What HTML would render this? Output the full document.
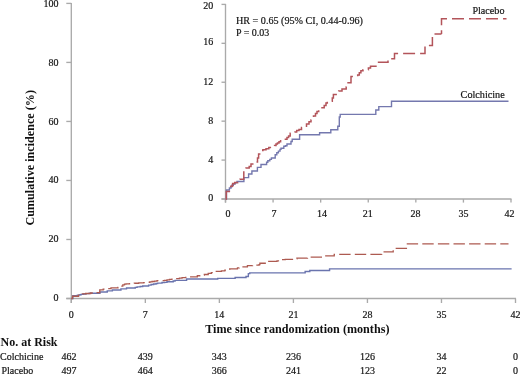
<!DOCTYPE html>
<html><head><meta charset="utf-8"><title>Cumulative incidence</title>
<style>
html,body{margin:0;padding:0;background:#fff;}
body{width:520px;height:374px;overflow:hidden;}
svg{display:block;}
</style></head><body>
<svg width="520" height="374" viewBox="0 0 520 374">
<g stroke="#aaaaaa" stroke-width="1.35" fill="none">
<line x1="71.3" y1="2.9" x2="71.3" y2="303.0"/>
<line x1="66.3" y1="298.5" x2="516.0" y2="298.5"/>
<line x1="66.3" y1="298.50" x2="71.3" y2="298.50"/>
<line x1="66.3" y1="239.48" x2="71.3" y2="239.48"/>
<line x1="66.3" y1="180.46" x2="71.3" y2="180.46"/>
<line x1="66.3" y1="121.44" x2="71.3" y2="121.44"/>
<line x1="66.3" y1="62.42" x2="71.3" y2="62.42"/>
<line x1="66.3" y1="3.40" x2="71.3" y2="3.40"/>
<line x1="71.30" y1="298.5" x2="71.30" y2="303.0"/>
<line x1="145.33" y1="298.5" x2="145.33" y2="303.0"/>
<line x1="219.37" y1="298.5" x2="219.37" y2="303.0"/>
<line x1="293.40" y1="298.5" x2="293.40" y2="303.0"/>
<line x1="367.43" y1="298.5" x2="367.43" y2="303.0"/>
<line x1="441.47" y1="298.5" x2="441.47" y2="303.0"/>
<line x1="515.50" y1="298.5" x2="515.50" y2="303.0"/>
<line x1="225.5" y1="3.9000000000000004" x2="225.5" y2="202.6"/>
<line x1="221.5" y1="199.0" x2="511.5" y2="199.0"/>
<line x1="221.5" y1="199.00" x2="225.5" y2="199.00"/>
<line x1="221.5" y1="160.08" x2="225.5" y2="160.08"/>
<line x1="221.5" y1="121.16" x2="225.5" y2="121.16"/>
<line x1="221.5" y1="82.24" x2="225.5" y2="82.24"/>
<line x1="221.5" y1="43.32" x2="225.5" y2="43.32"/>
<line x1="221.5" y1="4.40" x2="225.5" y2="4.40"/>
<line x1="225.50" y1="199.0" x2="225.50" y2="202.6"/>
<line x1="273.08" y1="199.0" x2="273.08" y2="202.6"/>
<line x1="320.67" y1="199.0" x2="320.67" y2="202.6"/>
<line x1="368.25" y1="199.0" x2="368.25" y2="202.6"/>
<line x1="415.83" y1="199.0" x2="415.83" y2="202.6"/>
<line x1="463.42" y1="199.0" x2="463.42" y2="202.6"/>
<line x1="511.00" y1="199.0" x2="511.00" y2="202.6"/>
</g>
<path d="M71.30,298.50 L72.86,298.50 L72.86,295.77 L77.37,295.77 L77.37,295.16 L79.86,295.16 L79.86,294.80 L81.10,294.80 L81.10,294.34 L83.44,294.34 L83.44,293.95 L86.08,293.95 L86.08,293.59 L89.19,293.59 L89.19,293.19 L99.93,293.19 L99.93,292.01 L107.24,292.01 L107.24,290.92 L112.37,290.92 L112.37,290.01 L120.93,290.01 L120.93,288.92 L126.53,288.92 L126.53,288.04 L135.25,288.04 L135.25,287.34 L137.11,287.34 L137.11,286.91 L140.22,286.91 L140.22,286.49 L142.71,286.49 L142.71,286.07 L148.63,286.07 L148.63,285.09 L151.12,285.09 L151.12,284.46 L153.61,284.46 L153.61,283.97 L156.09,283.97 L156.09,283.46 L157.65,283.46 L157.65,283.09 L162.01,283.09 L162.01,282.52 L164.65,282.52 L164.65,282.33 L166.99,282.33 L166.99,281.82 L173.21,281.82 L173.21,281.06 L175.08,281.06 L175.08,280.39 L186.59,280.39 L186.59,279.03 L217.71,279.03 L217.71,278.39 L235.13,278.39 L235.13,277.48 L246.02,277.48 L246.02,276.45 L248.36,276.45 L248.36,273.63 L249.76,273.63 L249.76,272.84 L305.15,272.84 L305.15,271.51 L309.81,271.51 L309.81,270.48 L329.57,270.48 L329.57,268.87 L511.61,268.87" fill="none" stroke="#6a74ae" stroke-width="1.4"/>
<path d="M71.30,298.50 L72.54,298.50 L72.54,296.26 L78.61,296.26 L78.61,295.13 L79.39,295.13 L79.39,294.65 L82.35,294.65 L82.35,293.83 L85.61,293.83 L85.61,293.50 L90.59,293.50 L90.59,293.01 L93.86,293.01 L93.86,292.53 L99.77,292.53 L99.77,289.92 L103.20,289.92 L103.20,289.10 L108.17,289.10 L108.17,288.61 L110.97,288.61 L110.97,287.88 L117.98,287.88 L117.98,287.28 L121.09,287.28 L121.09,286.07 L122.80,286.07 L122.80,284.85 L124.51,284.85 L124.51,284.09 L126.07,284.09 L126.07,283.79 L129.49,283.79 L129.49,283.58 L134.31,283.58 L134.31,283.24 L138.67,283.24 L138.67,282.91 L143.65,282.91 L143.65,282.58 L147.69,282.58 L147.69,282.27 L149.87,282.27 L149.87,281.82 L152.05,281.82 L152.05,281.52 L154.54,281.52 L154.54,281.12 L157.03,281.12 L157.03,280.61 L164.50,280.61 L164.50,280.36 L166.99,280.36 L166.99,279.88 L169.48,279.88 L169.48,279.39 L171.96,279.39 L171.96,278.54 L179.43,278.54 L179.43,278.18 L182.08,278.18 L182.08,277.69 L185.66,277.69 L185.66,277.45 L189.55,277.45 L189.55,276.85 L197.33,276.85 L197.33,275.75 L201.21,275.75 L201.21,275.09 L204.33,275.09 L204.33,274.51 L208.22,274.51 L208.22,273.33 L211.33,273.33 L211.33,272.57 L213.66,272.57 L213.66,271.96 L216.31,271.96 L216.31,271.36 L221.44,271.36 L221.44,270.84 L224.86,270.84 L224.86,270.14 L227.66,270.14 L227.66,269.38 L229.69,269.38 L229.69,268.84 L237.47,268.84 L237.47,267.87 L239.18,267.87 L239.18,266.78 L247.42,266.78 L247.42,265.71 L252.56,265.71 L252.56,265.14 L259.09,265.14 L259.09,264.56 L259.87,264.56 L259.87,263.26 L266.56,263.26 L266.56,261.32 L276.99,261.32 L276.99,260.89 L279.47,260.89 L279.47,260.22 L281.96,260.22 L281.96,259.59 L285.23,259.59 L285.23,259.32 L293.63,259.32 L293.63,258.77 L296.90,258.77 L296.90,258.22 L307.48,258.22 L307.48,257.04 L324.13,257.04 L324.13,255.95 L334.24,255.95 L334.24,254.40 L381.70,254.40 L381.70,251.91 L393.21,251.91 L393.21,248.46 L407.37,248.46" fill="none" stroke="#ad5a50" stroke-width="1.3" stroke-dasharray="11.4,4.2"/>
<path d="M407.37,248.46 L407.37,243.82 L508.50,243.82" fill="none" stroke="#ad5a50" stroke-width="1.3" stroke-dasharray="11.4,4.2" stroke-dashoffset="11.63"/>
<path d="M225.50,199.00 L226.50,199.00 L226.50,190.00 L229.40,190.00 L229.40,188.00 L231.00,188.00 L231.00,186.80 L231.80,186.80 L231.80,185.30 L233.30,185.30 L233.30,184.00 L235.00,184.00 L235.00,182.80 L237.00,182.80 L237.00,181.50 L243.90,181.50 L243.90,177.60 L248.60,177.60 L248.60,174.00 L251.90,174.00 L251.90,171.00 L257.40,171.00 L257.40,167.40 L261.00,167.40 L261.00,164.50 L266.60,164.50 L266.60,162.20 L267.80,162.20 L267.80,160.80 L269.80,160.80 L269.80,159.40 L271.40,159.40 L271.40,158.00 L275.20,158.00 L275.20,154.80 L276.80,154.80 L276.80,152.70 L278.40,152.70 L278.40,151.10 L280.00,151.10 L280.00,149.40 L281.00,149.40 L281.00,148.20 L283.80,148.20 L283.80,146.30 L285.50,146.30 L285.50,145.70 L287.00,145.70 L287.00,144.00 L291.00,144.00 L291.00,141.50 L292.20,141.50 L292.20,139.30 L299.60,139.30 L299.60,134.80 L319.60,134.80 L319.60,132.70 L330.80,132.70 L330.80,129.70 L337.80,129.70 L337.80,126.30 L339.30,126.30 L339.30,117.00 L340.20,117.00 L340.20,114.40 L375.80,114.40 L375.80,110.00 L378.80,110.00 L378.80,106.60 L391.50,106.60 L391.50,101.30 L508.50,101.30" fill="none" stroke="#7478ae" stroke-width="1.4"/>
<path d="M225.50,199.00 L226.30,199.00 L226.30,191.60 L230.20,191.60 L230.20,187.90 L230.70,187.90 L230.70,186.30 L232.60,186.30 L232.60,183.60 L234.70,183.60 L234.70,182.50 L237.90,182.50 L237.90,180.90 L240.00,180.90 L240.00,179.30 L243.80,179.30 L243.80,170.70 L246.00,170.70 L246.00,168.00 L249.20,168.00 L249.20,166.40 L251.00,166.40 L251.00,164.00 L255.50,164.00 L255.50,162.00 L257.50,162.00 L257.50,158.00 L258.60,158.00 L258.60,154.00 L259.70,154.00 L259.70,151.50 L260.70,151.50 L260.70,150.50 L262.90,150.50 L262.90,149.80 L266.00,149.80 L266.00,148.70 L268.80,148.70 L268.80,147.60 L272.00,147.60 L272.00,146.50 L274.60,146.50 L274.60,145.50 L276.00,145.50 L276.00,144.00 L277.40,144.00 L277.40,143.00 L279.00,143.00 L279.00,141.70 L280.60,141.70 L280.60,140.00 L285.40,140.00 L285.40,139.20 L287.00,139.20 L287.00,137.60 L288.60,137.60 L288.60,136.00 L290.20,136.00 L290.20,133.20 L295.00,133.20 L295.00,132.00 L296.70,132.00 L296.70,130.40 L299.00,130.40 L299.00,129.60 L301.50,129.60 L301.50,127.60 L306.50,127.60 L306.50,124.00 L309.00,124.00 L309.00,121.80 L311.00,121.80 L311.00,119.90 L313.50,119.90 L313.50,116.00 L315.50,116.00 L315.50,113.50 L317.00,113.50 L317.00,111.50 L318.70,111.50 L318.70,109.50 L322.00,109.50 L322.00,107.80 L324.20,107.80 L324.20,105.50 L326.00,105.50 L326.00,103.00 L327.30,103.00 L327.30,101.20 L332.30,101.20 L332.30,98.00 L333.40,98.00 L333.40,94.40 L338.70,94.40 L338.70,90.90 L342.00,90.90 L342.00,89.00 L346.20,89.00 L346.20,87.10 L346.70,87.10 L346.70,82.80 L351.00,82.80 L351.00,76.40 L357.70,76.40 L357.70,75.00 L359.30,75.00 L359.30,72.80 L360.90,72.80 L360.90,70.70 L363.00,70.70 L363.00,69.80 L368.40,69.80 L368.40,68.00 L370.50,68.00 L370.50,66.20 L377.30,66.20 L377.30,62.30 L388.00,62.30 L388.00,58.70 L394.50,58.70 L394.50,53.60 L425.00,53.60 L425.00,45.40 L432.40,45.40 L432.40,34.00 L441.50,34.00" fill="none" stroke="#b3545a" stroke-width="1.5" stroke-dasharray="12,5"/>
<path d="M441.50,34.00 L441.50,18.70 L506.50,18.70" fill="none" stroke="#b3545a" stroke-width="1.5" stroke-dasharray="12,5" stroke-dashoffset="8.20"/>
<text x="58.50" y="300.90" font-family="Liberation Serif, Times New Roman, serif" font-size="10" text-anchor="end" fill="#151515" stroke="#151515" stroke-width="0.2">0</text>
<text x="58.50" y="242.17" font-family="Liberation Serif, Times New Roman, serif" font-size="10" text-anchor="end" fill="#151515" stroke="#151515" stroke-width="0.2">20</text>
<text x="58.50" y="183.44" font-family="Liberation Serif, Times New Roman, serif" font-size="10" text-anchor="end" fill="#151515" stroke="#151515" stroke-width="0.2">40</text>
<text x="58.50" y="124.71" font-family="Liberation Serif, Times New Roman, serif" font-size="10" text-anchor="end" fill="#151515" stroke="#151515" stroke-width="0.2">60</text>
<text x="58.50" y="65.98" font-family="Liberation Serif, Times New Roman, serif" font-size="10" text-anchor="end" fill="#151515" stroke="#151515" stroke-width="0.2">80</text>
<text x="58.50" y="7.25" font-family="Liberation Serif, Times New Roman, serif" font-size="10" text-anchor="end" fill="#151515" stroke="#151515" stroke-width="0.2">100</text>
<text x="71.30" y="318.3" font-family="Liberation Serif, Times New Roman, serif" font-size="10" text-anchor="middle" fill="#151515" stroke="#151515" stroke-width="0.2">0</text>
<text x="145.33" y="318.3" font-family="Liberation Serif, Times New Roman, serif" font-size="10" text-anchor="middle" fill="#151515" stroke="#151515" stroke-width="0.2">7</text>
<text x="219.37" y="318.3" font-family="Liberation Serif, Times New Roman, serif" font-size="10" text-anchor="middle" fill="#151515" stroke="#151515" stroke-width="0.2">14</text>
<text x="293.40" y="318.3" font-family="Liberation Serif, Times New Roman, serif" font-size="10" text-anchor="middle" fill="#151515" stroke="#151515" stroke-width="0.2">21</text>
<text x="367.43" y="318.3" font-family="Liberation Serif, Times New Roman, serif" font-size="10" text-anchor="middle" fill="#151515" stroke="#151515" stroke-width="0.2">28</text>
<text x="441.47" y="318.3" font-family="Liberation Serif, Times New Roman, serif" font-size="10" text-anchor="middle" fill="#151515" stroke="#151515" stroke-width="0.2">35</text>
<text x="515.50" y="318.3" font-family="Liberation Serif, Times New Roman, serif" font-size="10" text-anchor="middle" fill="#151515" stroke="#151515" stroke-width="0.2">42</text>
<text x="213.20" y="200.75" font-family="Liberation Serif, Times New Roman, serif" font-size="10" text-anchor="end" fill="#151515" stroke="#151515" stroke-width="0.2">0</text>
<text x="213.20" y="162.65" font-family="Liberation Serif, Times New Roman, serif" font-size="10" text-anchor="end" fill="#151515" stroke="#151515" stroke-width="0.2">4</text>
<text x="213.20" y="123.65" font-family="Liberation Serif, Times New Roman, serif" font-size="10" text-anchor="end" fill="#151515" stroke="#151515" stroke-width="0.2">8</text>
<text x="213.20" y="84.85" font-family="Liberation Serif, Times New Roman, serif" font-size="10" text-anchor="end" fill="#151515" stroke="#151515" stroke-width="0.2">12</text>
<text x="213.20" y="45.35" font-family="Liberation Serif, Times New Roman, serif" font-size="10" text-anchor="end" fill="#151515" stroke="#151515" stroke-width="0.2">16</text>
<text x="213.20" y="8.65" font-family="Liberation Serif, Times New Roman, serif" font-size="10" text-anchor="end" fill="#151515" stroke="#151515" stroke-width="0.2">20</text>
<text x="228.00" y="216.8" font-family="Liberation Serif, Times New Roman, serif" font-size="10" text-anchor="middle" fill="#151515" stroke="#151515" stroke-width="0.2">0</text>
<text x="273.90" y="216.8" font-family="Liberation Serif, Times New Roman, serif" font-size="10" text-anchor="middle" fill="#151515" stroke="#151515" stroke-width="0.2">7</text>
<text x="322.00" y="216.8" font-family="Liberation Serif, Times New Roman, serif" font-size="10" text-anchor="middle" fill="#151515" stroke="#151515" stroke-width="0.2">14</text>
<text x="367.70" y="216.8" font-family="Liberation Serif, Times New Roman, serif" font-size="10" text-anchor="middle" fill="#151515" stroke="#151515" stroke-width="0.2">21</text>
<text x="415.50" y="216.8" font-family="Liberation Serif, Times New Roman, serif" font-size="10" text-anchor="middle" fill="#151515" stroke="#151515" stroke-width="0.2">28</text>
<text x="463.40" y="216.8" font-family="Liberation Serif, Times New Roman, serif" font-size="10" text-anchor="middle" fill="#151515" stroke="#151515" stroke-width="0.2">35</text>
<text x="509.40" y="216.8" font-family="Liberation Serif, Times New Roman, serif" font-size="10" text-anchor="middle" fill="#151515" stroke="#151515" stroke-width="0.2">42</text>
<text x="236" y="23.6" font-family="Liberation Serif, Times New Roman, serif" font-size="10.15" fill="#151515" stroke="#151515" stroke-width="0.2">HR = 0.65 (95% CI, 0.44-0.96)</text>
<text x="236" y="35.9" font-family="Liberation Serif, Times New Roman, serif" font-size="10" fill="#151515" stroke="#151515" stroke-width="0.2">P = 0.03</text>
<text x="472.4" y="13.6" font-family="Liberation Serif, Times New Roman, serif" font-size="10.15" fill="#151515" stroke="#151515" stroke-width="0.2">Placebo</text>
<text x="460.6" y="97.7" font-family="Liberation Serif, Times New Roman, serif" font-size="10.2" fill="#151515" stroke="#151515" stroke-width="0.2">Colchicine</text>
<text x="205.2" y="333.2" font-family="Liberation Serif, Times New Roman, serif" font-size="12.15" font-weight="bold" fill="#111">Time since randomization (months)</text>
<text transform="translate(33.5,225.6) rotate(-90)" x="0" y="0" font-family="Liberation Serif, Times New Roman, serif" font-size="12.15" font-weight="bold" fill="#111">Cumulative incidence (%)</text>
<text x="0.5" y="346.2" font-family="Liberation Serif, Times New Roman, serif" font-size="12" font-weight="bold" fill="#111">No. at Risk</text>
<text x="0" y="360.2" font-family="Liberation Serif, Times New Roman, serif" font-size="10" fill="#151515" stroke="#151515" stroke-width="0.2">Colchicine</text>
<text x="1.5" y="374.2" font-family="Liberation Serif, Times New Roman, serif" font-size="10" fill="#151515" stroke="#151515" stroke-width="0.2">Placebo</text>
<text x="69.00" y="360.2" font-family="Liberation Serif, Times New Roman, serif" font-size="10" text-anchor="middle" fill="#151515" stroke="#151515" stroke-width="0.2">462</text>
<text x="69.00" y="374.2" font-family="Liberation Serif, Times New Roman, serif" font-size="10" text-anchor="middle" fill="#151515" stroke="#151515" stroke-width="0.2">497</text>
<text x="145.33" y="360.2" font-family="Liberation Serif, Times New Roman, serif" font-size="10" text-anchor="middle" fill="#151515" stroke="#151515" stroke-width="0.2">439</text>
<text x="145.33" y="374.2" font-family="Liberation Serif, Times New Roman, serif" font-size="10" text-anchor="middle" fill="#151515" stroke="#151515" stroke-width="0.2">464</text>
<text x="219.37" y="360.2" font-family="Liberation Serif, Times New Roman, serif" font-size="10" text-anchor="middle" fill="#151515" stroke="#151515" stroke-width="0.2">343</text>
<text x="219.37" y="374.2" font-family="Liberation Serif, Times New Roman, serif" font-size="10" text-anchor="middle" fill="#151515" stroke="#151515" stroke-width="0.2">366</text>
<text x="293.40" y="360.2" font-family="Liberation Serif, Times New Roman, serif" font-size="10" text-anchor="middle" fill="#151515" stroke="#151515" stroke-width="0.2">236</text>
<text x="293.40" y="374.2" font-family="Liberation Serif, Times New Roman, serif" font-size="10" text-anchor="middle" fill="#151515" stroke="#151515" stroke-width="0.2">241</text>
<text x="367.43" y="360.2" font-family="Liberation Serif, Times New Roman, serif" font-size="10" text-anchor="middle" fill="#151515" stroke="#151515" stroke-width="0.2">126</text>
<text x="367.43" y="374.2" font-family="Liberation Serif, Times New Roman, serif" font-size="10" text-anchor="middle" fill="#151515" stroke="#151515" stroke-width="0.2">123</text>
<text x="441.47" y="360.2" font-family="Liberation Serif, Times New Roman, serif" font-size="10" text-anchor="middle" fill="#151515" stroke="#151515" stroke-width="0.2">34</text>
<text x="441.47" y="374.2" font-family="Liberation Serif, Times New Roman, serif" font-size="10" text-anchor="middle" fill="#151515" stroke="#151515" stroke-width="0.2">22</text>
<text x="515.50" y="360.2" font-family="Liberation Serif, Times New Roman, serif" font-size="10" text-anchor="middle" fill="#151515" stroke="#151515" stroke-width="0.2">0</text>
<text x="515.50" y="374.2" font-family="Liberation Serif, Times New Roman, serif" font-size="10" text-anchor="middle" fill="#151515" stroke="#151515" stroke-width="0.2">0</text>
</svg>
</body></html>
